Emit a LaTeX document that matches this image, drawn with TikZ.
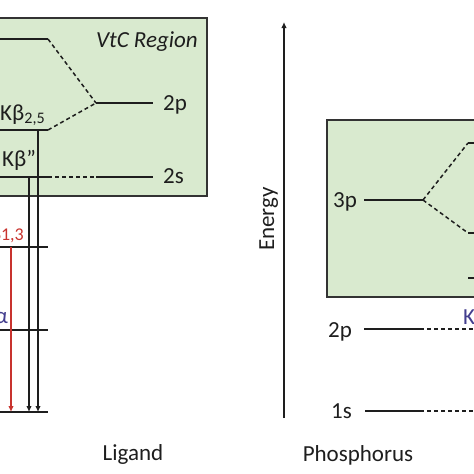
\documentclass[tikz,border=0pt]{standalone}
\usepackage{fontspec}
\setmainfont{Carlito}
\usetikzlibrary{arrows.meta,positioning}
\definecolor{vtcfill}{HTML}{D9EACF}
\definecolor{frameline}{HTML}{333333}
\definecolor{ink}{HTML}{1E1E1E}
\definecolor{kbred}{HTML}{C8332E}
\definecolor{kablue}{HTML}{433E8E}
\begin{document}
\begin{tikzpicture}[x=1pt,y=-1pt,>={Latex[length=6pt,width=5.5pt]},
 font=\fontsize{23}{27}\selectfont,
 lvl/.style={draw=ink,line width=1.5pt},
 mixline/.style={draw=ink,line width=1.5pt,dash pattern=on 4pt off 3pt},
 region/.style={draw=frameline,fill=vtcfill,line width=1.5pt},
 trans/.style={->,line width=1.3pt},
 lbl/.style={inner sep=0pt,text=ink}]
\useasboundingbox (0,0) rectangle (474,474);
\clip (0,0) rectangle (474,474);
% VtC regions
\draw[region] (-20,18) rectangle (207,196);
\draw[region] (327,120) rectangle (500,297);
\node[lbl,anchor=base east,font=\fontsize{23}{27}\selectfont\itshape] (vtc) at (198,47) {VtC Region};
% metal levels, left
\coordinate (up0) at (-5,39);    \coordinate (up1) at (48,39);
\coordinate (kb25a) at (-5,130); \coordinate (kb25b) at (48,130);
\coordinate (kbppa) at (-5,177); \coordinate (kbppb) at (48,177);
\coordinate (m3pa) at (-5,247);  \coordinate (m3pb) at (48,247);
\coordinate (m2pa) at (-5,330);  \coordinate (m2pb) at (48,330);
\coordinate (m1sa) at (-5,412);  \coordinate (m1sb) at (48,412);
\draw[lvl] (up0) -- (up1);
\draw[lvl] (kb25a) -- (kb25b);
\draw[lvl] (kbppa) -- (kbppb);
\draw[lvl] (m3pa) -- (m3pb);
\draw[lvl] (m2pa) -- (m2pb);
\draw[lvl] (m1sa) -- (m1sb);
% ligand levels
\coordinate (l2pa) at (96,103);  \coordinate (l2pb) at (153,103);
\coordinate (l2sa) at (96,177);  \coordinate (l2sb) at (153,177);
\draw[lvl] (l2pa) -- (l2pb);
\draw[lvl] (l2sa) -- (l2sb);
\draw[mixline] (up1) -- (l2pa);
\draw[mixline] (kb25b) -- (l2pa);
\draw[mixline] (kbppb) -- (l2sa);
\node[lbl,anchor=base west] (l2p) at (163,110) {2p};
\node[lbl,anchor=base west] (l2s) at (163,183) {2s};
% emission lines
\coordinate (t25a) at (38,130); \coordinate (t25b) at (38,412);
\coordinate (tppa) at (29,177); \coordinate (tppb) at (29,412);
\coordinate (t13a) at (11,247); \coordinate (t13b) at (11,412);
\draw[trans,ink] (t25a) -- (t25b);
\draw[trans,ink] (tppa) -- (tppb);
\draw[trans,kbred] (t13a) -- (t13b);
\node[lbl,anchor=base west] (kb25) at (0,120) {Kβ\textsubscript{2,5}};
\node[lbl,anchor=base west] (kbpp) at (2,166) {Kβ”};
\node[lbl,anchor=base east,text=kbred,font=\fontsize{18}{22}\selectfont] (kb13) at (24,240) {Kβ1,3};
\node[lbl,anchor=base east,text=kablue] (ka) at (8,323) {Kα};
\node[lbl,anchor=base] (lig) at (133,460) {Ligand};
% energy axis
\coordinate (e0) at (284,418); \coordinate (e1) at (284,22);
\draw[->,ink,line width=1.4pt] (e0) -- (e1);
\node[lbl,anchor=base,rotate=90] (energy) at (274,219) {Energy};
% phosphorus levels
\coordinate (p3pa) at (364,200); \coordinate (p3pb) at (423,200);
\coordinate (pup) at (468,143);  \coordinate (pdn) at (468,233);
\coordinate (plo) at (468,278);
\draw[lvl] (p3pa) -- (p3pb);
\draw[mixline] (p3pb) -- (pup);
\draw[mixline] (p3pb) -- (pdn);
\draw[lvl] (pup) -- +(20,0);
\draw[lvl] (pdn) -- +(20,0);
\draw[lvl] (plo) -- +(20,0);
\coordinate (p2pa) at (364,329); \coordinate (p2pb) at (420,329);
\coordinate (p1sa) at (365,411); \coordinate (p1sb) at (420,411);
\draw[lvl] (p2pa) -- (p2pb);
\draw[lvl] (p1sa) -- (p1sb);
\draw[mixline] (p2pb) -- +(70,0);
\draw[mixline] (p1sb) -- +(70,0);
\node[lbl,anchor=base west] (p3p) at (333,207) {3p};
\node[lbl,anchor=base west] (p2p) at (328,337) {2p};
\node[lbl,anchor=base west] (p1s) at (331,418) {1s};
\node[lbl,anchor=base west,text=kablue] (pka) at (463,324) {Kα};
\node[lbl,anchor=base] (phos) at (358,461) {Phosphorus};
\end{tikzpicture}
\end{document}
